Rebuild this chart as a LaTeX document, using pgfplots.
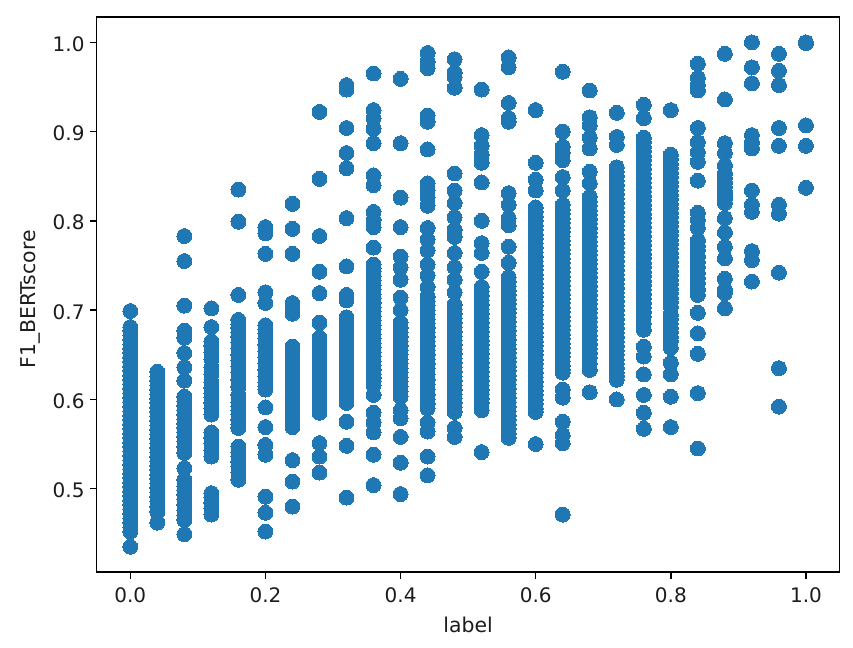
\documentclass[border=0pt]{standalone}
\usepackage{pgfplots}
\pgfplotsset{compat=1.18}
\usepackage{fontspec}
\setmainfont{DejaVu Sans}
\definecolor{mplblue}{HTML}{1F77B4}
\definecolor{mpltext}{HTML}{1C1C1C}
\begin{document}
\begin{tikzpicture}[x=1pt,y=1pt]
\path[use as bounding box] (0,0) rectangle (639.75pt,485.25pt);
\begin{axis}[
  at={(72.4pt,56.25pt)}, anchor=south west,
  scale only axis, width=557.4pt, height=416.25pt,
  xmin=-0.05, xmax=1.05, ymin=0.4067, ymax=1.0283,
  xtick={0,0.2,0.4,0.6,0.8,1},
  ytick={0.5,0.6,0.7,0.8,0.9,1},
  xticklabels={0.0,0.2,0.4,0.6,0.8,1.0},
  yticklabels={0.5,0.6,0.7,0.8,0.9,1.0},
  tick align=outside, tick pos=lower,
  major tick length=5pt,
  every tick/.style={black,line width=1.1pt},
  axis line style={line width=1.1pt,black},
  tick label style={font=\fontsize{15}{17}\selectfont,text=mpltext},
  yticklabel style={yshift=-1.2pt,xshift=-0.5pt},
  xticklabel style={yshift=-3pt},
  label style={font=\fontsize{15.3}{17}\selectfont,text=mpltext},
  xlabel={label}, ylabel={F1\_BERTscore},
  xlabel style={at={(axis description cs:0.5,0)},anchor=north,yshift=-30pt},
  ylabel style={at={(axis description cs:0,0.491)},anchor=south,yshift=39pt},
  clip=true,
]
\addplot[only marks, mark=*, mark size=5.6pt, mark options={fill=mplblue,draw=mplblue,line width=0pt}] coordinates {
(0,.699)(0,.681)(0,.672)(0,.662)(0,.652)(0,.642)(0,.632)(0,.622)(0,.612)(0,.602)(0,.592)(0,.582)(0,.572)(0,.562)(0,.552)(0,.542)(0,.532)(0,.522)(0,.512)(0,.502)(0,.492)(0,.482)(0,.472)(0,.462)(0,.452)(0,.435)
(.04,.631)(.04,.621)(.04,.611)(.04,.601)(.04,.591)(.04,.581)(.04,.571)(.04,.561)(.04,.551)(.04,.541)(.04,.531)(.04,.521)(.04,.511)(.04,.501)(.04,.491)(.04,.48)(.04,.474)(.04,.462)
(.08,.783)(.08,.755)(.08,.705)(.08,.677)(.08,.669)(.08,.652)(.08,.636)(.08,.621)(.08,.603)(.08,.593)(.08,.583)(.08,.573)(.08,.563)(.08,.553)(.08,.54)(.08,.523)(.08,.51)(.08,.498)(.08,.488)(.08,.476)(.08,.465)(.08,.449)
(.12,.702)(.12,.681)(.12,.665)(.12,.653)(.12,.636)(.12,.619)(.12,.607)(.12,.596)(.12,.583)(.12,.563)(.12,.551)(.12,.536)(.12,.495)(.12,.484)(.12,.471)
(.16,.835)(.16,.799)(.16,.717)(.16,.689)(.16,.68)(.16,.67)(.16,.657)(.16,.644)(.16,.63)(.16,.614)(.16,.597)(.16,.588)(.16,.577)(.16,.568)(.16,.547)(.16,.536)(.16,.525)(.16,.51)
(.20,.793)(.20,.786)(.20,.763)(.20,.72)(.20,.708)(.20,.683)(.20,.674)(.20,.661)(.20,.647)(.20,.633)(.20,.619)(.20,.611)(.20,.591)(.20,.569)(.20,.549)(.20,.538)(.20,.491)(.20,.473)(.20,.452)
(.24,.819)(.24,.791)(.24,.763)(.24,.708)(.24,.696)(.24,.659)(.24,.648)(.24,.637)(.24,.626)(.24,.615)(.24,.604)(.24,.593)(.24,.582)(.24,.569)(.24,.532)(.24,.508)(.24,.48)
(.28,.922)(.28,.847)(.28,.783)(.28,.743)(.28,.719)(.28,.686)(.28,.669)(.28,.659)(.28,.647)(.28,.631)(.28,.619)(.28,.609)(.28,.6)(.28,.585)(.28,.551)(.28,.536)(.28,.518)
(.32,.952)(.32,.947)(.32,.904)(.32,.876)(.32,.859)(.32,.803)(.32,.749)(.32,.717)(.32,.711)(.32,.692)(.32,.681)(.32,.67)(.32,.66)(.32,.652)(.32,.646)(.32,.636)(.32,.626)(.32,.616)(.32,.606)(.32,.596)(.32,.575)(.32,.548)(.32,.49)
(.36,.965)(.36,.924)(.36,.915)(.36,.903)(.36,.887)(.36,.851)(.36,.84)(.36,.81)(.36,.801)(.36,.793)(.36,.77)(.36,.751)(.36,.743)(.36,.733)(.36,.723)(.36,.713)(.36,.703)(.36,.693)(.36,.683)(.36,.673)(.36,.663)(.36,.653)(.36,.643)(.36,.633)(.36,.624)(.36,.616)(.36,.605)(.36,.585)(.36,.574)(.36,.563)(.36,.538)(.36,.504)
(.40,.959)(.40,.887)(.40,.826)(.40,.793)(.40,.76)(.40,.748)(.40,.734)(.40,.714)(.40,.7)(.40,.686)(.40,.675)(.40,.665)(.40,.655)(.40,.645)(.40,.635)(.40,.625)(.40,.615)(.40,.603)(.40,.588)(.40,.579)(.40,.558)(.40,.529)(.40,.494)
(.44,.988)(.44,.978)(.44,.971)(.44,.918)(.44,.911)(.44,.88)(.44,.842)(.44,.834)(.44,.826)(.44,.817)(.44,.792)(.44,.779)(.44,.767)(.44,.751)(.44,.739)(.44,.726)(.44,.715)(.44,.705)(.44,.695)(.44,.685)(.44,.675)(.44,.665)(.44,.655)(.44,.645)(.44,.635)(.44,.622)(.44,.611)(.44,.6)(.44,.59)(.44,.574)(.44,.564)(.44,.536)(.44,.515)
(.48,.981)(.48,.966)(.48,.961)(.48,.949)(.48,.853)(.48,.834)(.48,.82)(.48,.804)(.48,.79)(.48,.782)(.48,.764)(.48,.748)(.48,.734)(.48,.72)(.48,.706)(.48,.696)(.48,.686)(.48,.676)(.48,.666)(.48,.656)(.48,.646)(.48,.636)(.48,.626)(.48,.616)(.48,.606)(.48,.596)(.48,.586)(.48,.568)(.48,.558)
(.52,.947)(.52,.896)(.52,.884)(.52,.874)(.52,.865)(.52,.843)(.52,.8)(.52,.775)(.52,.764)(.52,.743)(.52,.726)(.52,.716)(.52,.706)(.52,.696)(.52,.686)(.52,.676)(.52,.666)(.52,.656)(.52,.646)(.52,.636)(.52,.626)(.52,.616)(.52,.606)(.52,.596)(.52,.588)(.52,.541)
(.56,.983)(.56,.972)(.56,.932)(.56,.915)(.56,.911)(.56,.831)(.56,.818)(.56,.803)(.56,.795)(.56,.771)(.56,.753)(.56,.737)(.56,.727)(.56,.717)(.56,.707)(.56,.697)(.56,.687)(.56,.677)(.56,.667)(.56,.657)(.56,.647)(.56,.637)(.56,.627)(.56,.617)(.56,.607)(.56,.597)(.56,.587)(.56,.577)(.56,.567)(.56,.557)
(.60,.924)(.60,.865)(.60,.846)(.60,.834)(.60,.815)(.60,.805)(.60,.795)(.60,.785)(.60,.775)(.60,.765)(.60,.755)(.60,.745)(.60,.735)(.60,.725)(.60,.715)(.60,.705)(.60,.695)(.60,.685)(.60,.675)(.60,.665)(.60,.655)(.60,.645)(.60,.635)(.60,.625)(.60,.615)(.60,.605)(.60,.595)(.60,.586)(.60,.55)
(.64,.967)(.64,.9)(.64,.883)(.64,.876)(.64,.868)(.64,.849)(.64,.834)(.64,.818)(.64,.808)(.64,.798)(.64,.788)(.64,.778)(.64,.768)(.64,.758)(.64,.748)(.64,.738)(.64,.728)(.64,.718)(.64,.708)(.64,.698)(.64,.688)(.64,.678)(.64,.668)(.64,.658)(.64,.648)(.64,.638)(.64,.63)(.64,.611)(.64,.602)(.64,.575)(.64,.56)(.64,.551)(.64,.471)
(.68,.946)(.68,.916)(.68,.907)(.68,.893)(.68,.881)(.68,.855)(.68,.842)(.68,.827)(.68,.817)(.68,.807)(.68,.797)(.68,.787)(.68,.777)(.68,.767)(.68,.757)(.68,.747)(.68,.737)(.68,.727)(.68,.717)(.68,.707)(.68,.697)(.68,.687)(.68,.677)(.68,.667)(.68,.657)(.68,.647)(.68,.633)(.68,.608)
(.72,.921)(.72,.894)(.72,.885)(.72,.86)(.72,.85)(.72,.84)(.72,.83)(.72,.82)(.72,.81)(.72,.8)(.72,.79)(.72,.78)(.72,.77)(.72,.76)(.72,.75)(.72,.74)(.72,.73)(.72,.72)(.72,.71)(.72,.7)(.72,.69)(.72,.68)(.72,.67)(.72,.66)(.72,.65)(.72,.64)(.72,.63)(.72,.622)(.72,.6)
(.76,.93)(.76,.915)(.76,.893)(.76,.883)(.76,.873)(.76,.863)(.76,.853)(.76,.843)(.76,.833)(.76,.823)(.76,.813)(.76,.803)(.76,.793)(.76,.783)(.76,.773)(.76,.763)(.76,.753)(.76,.743)(.76,.733)(.76,.723)(.76,.713)(.76,.703)(.76,.693)(.76,.678)(.76,.659)(.76,.648)(.76,.628)(.76,.605)(.76,.585)(.76,.567)
(.80,.924)(.80,.874)(.80,.864)(.80,.854)(.80,.844)(.80,.834)(.80,.824)(.80,.814)(.80,.804)(.80,.794)(.80,.784)(.80,.774)(.80,.764)(.80,.754)(.80,.744)(.80,.734)(.80,.724)(.80,.714)(.80,.704)(.80,.695)(.80,.685)(.80,.675)(.80,.665)(.80,.658)(.80,.641)(.80,.628)(.80,.603)(.80,.569)
(.84,.976)(.84,.96)(.84,.952)(.84,.946)(.84,.904)(.84,.888)(.84,.877)(.84,.866)(.84,.845)(.84,.809)(.84,.801)(.84,.792)(.84,.778)(.84,.767)(.84,.754)(.84,.742)(.84,.73)(.84,.717)(.84,.697)(.84,.674)(.84,.651)(.84,.607)(.84,.545)
(.88,.987)(.88,.936)(.88,.887)(.88,.876)(.88,.862)(.88,.848)(.88,.838)(.88,.829)(.88,.82)(.88,.803)(.88,.787)(.88,.771)(.88,.758)(.88,.735)(.88,.723)(.88,.719)(.88,.702)
(.92,1.0)(.92,.972)(.92,.954)(.92,.896)(.92,.888)(.92,.881)(.92,.834)(.92,.818)(.92,.81)(.92,.766)(.92,.756)(.92,.732)
(.96,.987)(.96,.968)(.96,.952)(.96,.904)(.96,.884)(.96,.818)(.96,.808)(.96,.742)(.96,.635)(.96,.592)
(1,1.0)(1,.999)(1,.907)(1,.884)(1,.837)
(0,.677)(0,.667)(0,.657)(0,.647)(0,.637)(0,.627)(0,.617)(0,.607)(0,.597)(0,.587)(0,.577)(0,.567)(0,.557)(0,.547)(0,.537)(0,.527)(0,.517)(0,.507)(0,.497)(0,.487)(0,.477)(0,.467)(0,.457)
(.04,.626)(.04,.616)(.04,.606)(.04,.596)(.04,.586)(.04,.576)(.04,.566)(.04,.556)(.04,.546)(.04,.536)(.04,.526)(.04,.516)(.04,.506)(.04,.496)(.04,.486)
(.08,.598)(.08,.588)(.08,.578)(.08,.568)(.08,.558)(.08,.547)(.08,.503)(.08,.493)(.08,.482)(.08,.47)
(.12,.66)(.12,.645)(.12,.628)(.12,.613)(.12,.602)(.12,.59)(.12,.557)(.12,.543)(.12,.49)(.12,.478)
(.16,.684)(.16,.675)(.16,.664)(.16,.65)(.16,.637)(.16,.622)(.16,.605)(.16,.592)(.16,.583)(.16,.572)(.16,.541)(.16,.53)(.16,.518)
(.20,.678)(.20,.668)(.20,.654)(.20,.64)(.20,.626)(.20,.615)
(.24,.654)(.24,.643)(.24,.632)(.24,.62)(.24,.61)(.24,.598)(.24,.588)(.24,.575)(.24,.702)
(.28,.664)(.28,.653)(.28,.639)(.28,.625)(.28,.614)(.28,.604)(.28,.592)
(.32,.686)(.32,.675)(.32,.665)(.32,.656)(.32,.641)(.32,.631)(.32,.621)(.32,.611)(.32,.601)
(.36,.747)(.36,.738)(.36,.728)(.36,.718)(.36,.708)(.36,.698)(.36,.688)(.36,.678)(.36,.668)(.36,.658)(.36,.648)(.36,.638)(.36,.628)(.36,.62)
(.40,.68)(.40,.67)(.40,.66)(.40,.65)(.40,.64)(.40,.63)(.40,.62)(.40,.609)
(.44,.71)(.44,.7)(.44,.69)(.44,.68)(.44,.67)(.44,.66)(.44,.65)(.44,.64)(.44,.628)(.44,.617)(.44,.605)(.44,.595)
(.48,.701)(.48,.691)(.48,.681)(.48,.671)(.48,.661)(.48,.651)(.48,.641)(.48,.631)(.48,.621)(.48,.611)(.48,.601)(.48,.591)
(.52,.721)(.52,.711)(.52,.701)(.52,.691)(.52,.681)(.52,.671)(.52,.661)(.52,.651)(.52,.641)(.52,.631)(.52,.621)(.52,.611)(.52,.601)
(.56,.732)(.56,.722)(.56,.712)(.56,.702)(.56,.692)(.56,.682)(.56,.672)(.56,.662)(.56,.652)(.56,.642)(.56,.632)(.56,.622)(.56,.612)(.56,.602)(.56,.592)(.56,.582)(.56,.572)(.56,.562)
(.60,.81)(.60,.8)(.60,.79)(.60,.78)(.60,.77)(.60,.76)(.60,.75)(.60,.74)(.60,.73)(.60,.72)(.60,.71)(.60,.7)(.60,.69)(.60,.68)(.60,.67)(.60,.66)(.60,.65)(.60,.64)(.60,.63)(.60,.62)(.60,.61)(.60,.6)(.60,.59)
(.64,.813)(.64,.803)(.64,.793)(.64,.783)(.64,.773)(.64,.763)(.64,.753)(.64,.743)(.64,.733)(.64,.723)(.64,.713)(.64,.703)(.64,.693)(.64,.683)(.64,.673)(.64,.663)(.64,.653)(.64,.643)(.64,.634)
(.68,.822)(.68,.812)(.68,.802)(.68,.792)(.68,.782)(.68,.772)(.68,.762)(.68,.752)(.68,.742)(.68,.732)(.68,.722)(.68,.712)(.68,.702)(.68,.692)(.68,.682)(.68,.672)(.68,.662)(.68,.652)(.68,.64)
(.72,.855)(.72,.845)(.72,.835)(.72,.825)(.72,.815)(.72,.805)(.72,.795)(.72,.785)(.72,.775)(.72,.765)(.72,.755)(.72,.745)(.72,.735)(.72,.725)(.72,.715)(.72,.705)(.72,.695)(.72,.685)(.72,.675)(.72,.665)(.72,.655)(.72,.645)(.72,.635)(.72,.626)
(.76,.888)(.76,.878)(.76,.868)(.76,.858)(.76,.848)(.76,.838)(.76,.828)(.76,.818)(.76,.808)(.76,.798)(.76,.788)(.76,.778)(.76,.768)(.76,.758)(.76,.748)(.76,.738)(.76,.728)(.76,.718)(.76,.708)(.76,.698)(.76,.685)
(.80,.869)(.80,.859)(.80,.849)(.80,.839)(.80,.829)(.80,.819)(.80,.809)(.80,.799)(.80,.789)(.80,.779)(.80,.769)(.80,.759)(.80,.749)(.80,.739)(.80,.729)(.80,.719)(.80,.709)(.80,.69)(.80,.68)(.80,.67)
(.84,.772)(.84,.76)(.84,.748)(.84,.736)(.84,.723)
(.88,.853)(.88,.843)(.88,.833)(.88,.825)
};
\end{axis}
\end{tikzpicture}
\end{document}
